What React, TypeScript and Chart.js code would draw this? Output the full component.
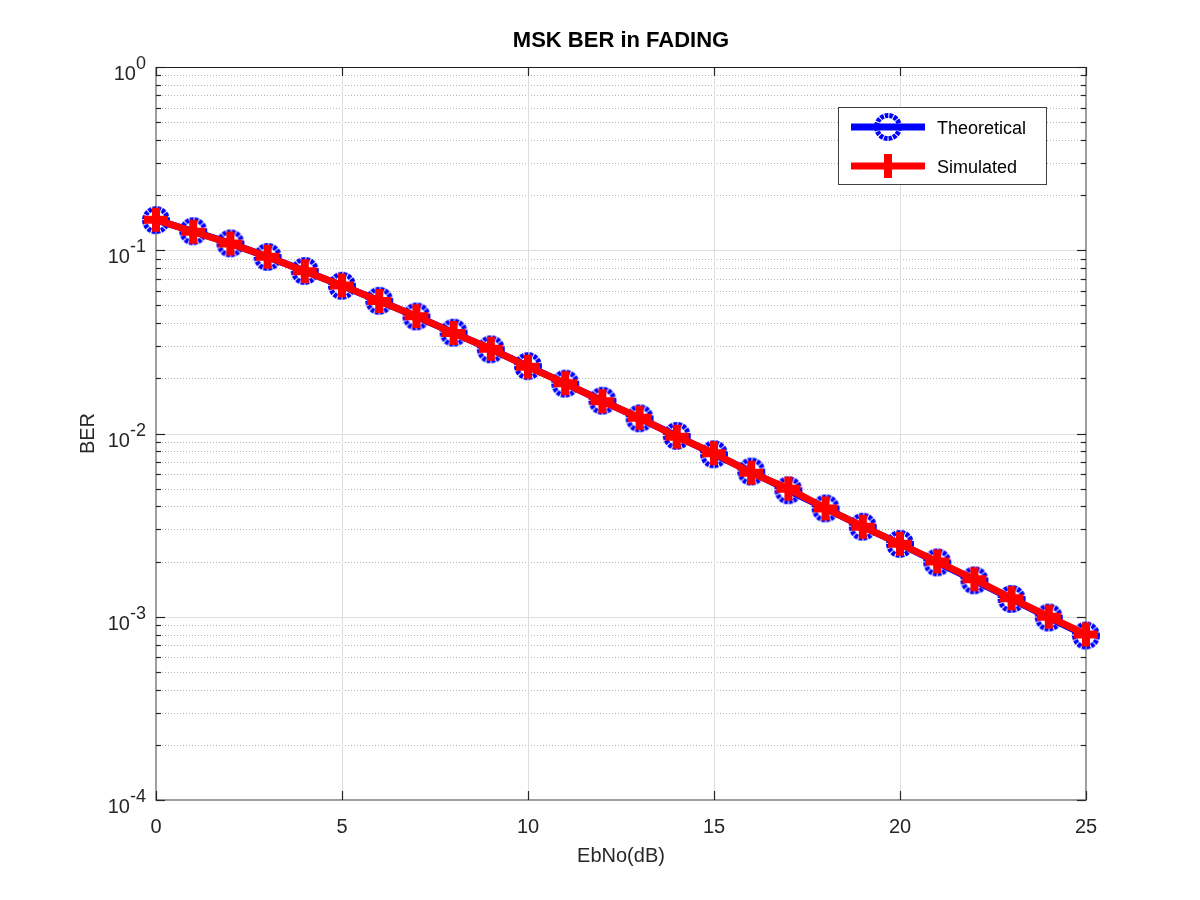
import React, { useEffect, useRef } from 'react';
import { Chart, registerables } from 'chart.js';

Chart.register(...registerables);

// EbNo in dB
const ebNo = [0, 1, 2, 3, 4, 5, 6, 7, 8, 9, 10, 11, 12, 13, 14, 15, 16, 17, 18, 19, 20, 21, 22, 23, 24, 25];

// BER
const theoretical = [
  0.146, 0.127, 0.109, 0.092, 0.077, 0.064, 0.053, 0.0435, 0.0355, 0.0288,
  0.0233, 0.0187, 0.0151, 0.0121, 0.0097, 0.0077, 0.0062, 0.0049, 0.0039, 0.0031,
  0.0025, 0.00198, 0.00158, 0.00125, 0.00099, 0.00079,
];
const simulated = [
  0.1468, 0.1262, 0.1089, 0.0921, 0.0768, 0.0643, 0.0528, 0.0437, 0.0353, 0.029,
  0.0231, 0.0188, 0.015, 0.0122, 0.0096, 0.0078, 0.0061, 0.005, 0.0039, 0.0031,
  0.0025, 0.002, 0.0016, 0.00126, 0.001, 0.0008,
];

const xTicks = [0, 5, 10, 15, 20, 25];
const yExponents = [0, -1, -2, -3, -4];
const minorSteps = [2, 3, 4, 5, 6, 7, 8, 9];
const seriesLabels = ['Theoretical', 'Simulated'];

const FONT = '"Liberation Sans", Arial, Helvetica, sans-serif';

function makeCircleMarker(): HTMLCanvasElement {
  const c = document.createElement('canvas');
  c.width = 34;
  c.height = 34;
  const g = c.getContext('2d');
  if (g) {
    g.strokeStyle = '#0000ff';
    g.lineWidth = 5;
    g.setLineDash([3.6, 1]);
    g.beginPath();
    g.arc(17, 17, 11.5, 0, Math.PI * 2);
    g.stroke();
  }
  return c;
}

const App: React.FC = () => {
  const chartRef = useRef<HTMLCanvasElement>(null);
  const chartInstance = useRef<Chart | null>(null);

  useEffect(() => {
    if (!chartRef.current) return;
    if (chartInstance.current) chartInstance.current.destroy();

    const circle = makeCircleMarker();

    // octave-style frame: grid, box, inward ticks, labels, legend
    const frame = {
      id: 'frame',
      beforeDatasetsDraw(chart: any) {
        const { ctx, chartArea: a } = chart;
        const xs = chart.scales.x;
        const ys = chart.scales.y;
        ctx.save();

        // minor grid
        ctx.strokeStyle = '#b4b4b4';
        ctx.lineWidth = 1;
        ctx.setLineDash([1, 2]);
        yExponents.slice(1).forEach((e) => {
          minorSteps.forEach((m) => {
            const y = Math.round(ys.getPixelForValue(m * 10 ** e)) + 0.5;
            ctx.beginPath();
            ctx.moveTo(a.left, y);
            ctx.lineTo(a.right, y);
            ctx.stroke();
          });
        });

        // major grid
        ctx.setLineDash([]);
        ctx.strokeStyle = '#dedede';
        yExponents.slice(1, -1).forEach((e) => {
          const y = Math.round(ys.getPixelForValue(10 ** e)) + 0.5;
          ctx.beginPath();
          ctx.moveTo(a.left, y);
          ctx.lineTo(a.right, y);
          ctx.stroke();
        });
        xTicks.slice(1, -1).forEach((v) => {
          const x = Math.round(xs.getPixelForValue(v)) + 0.5;
          ctx.beginPath();
          ctx.moveTo(x, a.top);
          ctx.lineTo(x, a.bottom);
          ctx.stroke();
        });

        // box
        ctx.strokeStyle = '#1e1e1e';
        ctx.lineWidth = 1;
        ctx.beginPath();
        ctx.moveTo(a.left, a.top + 0.5);
        ctx.lineTo(a.right, a.top + 0.5);
        ctx.stroke();
        ctx.strokeStyle = '#808080';
        ctx.lineWidth = 1.5;
        ctx.beginPath();
        ctx.moveTo(a.left, a.top);
        ctx.lineTo(a.left, a.bottom);
        ctx.lineTo(a.right, a.bottom);
        ctx.lineTo(a.right, a.top);
        ctx.stroke();

        // ticks
        ctx.strokeStyle = '#262626';
        ctx.lineWidth = 1.2;
        const tick = (x1: number, y1: number, x2: number, y2: number) => {
          ctx.beginPath();
          ctx.moveTo(x1, y1);
          ctx.lineTo(x2, y2);
          ctx.stroke();
        };
        yExponents.forEach((e) => {
          const y = Math.round(ys.getPixelForValue(10 ** e)) + 0.5;
          tick(a.left, y, a.left + 9, y);
          tick(a.right, y, a.right - 9, y);
          if (e > yExponents[yExponents.length - 1]) {
            minorSteps.forEach((m) => {
              const ym = Math.round(ys.getPixelForValue(m * 10 ** (e - 1))) + 0.5;
              tick(a.left, ym, a.left + 5, ym);
              tick(a.right, ym, a.right - 5, ym);
            });
          }
        });
        xTicks.forEach((v) => {
          const x = Math.round(xs.getPixelForValue(v)) + 0.5;
          tick(x, a.bottom, x, a.bottom - 9);
          tick(x, a.top, x, a.top + 9);
        });

        // tick labels
        ctx.fillStyle = '#262626';
        ctx.textBaseline = 'alphabetic';
        ctx.font = `20px ${FONT}`;
        ctx.textAlign = 'center';
        xTicks.forEach((v) => {
          ctx.fillText(String(v), xs.getPixelForValue(v), a.bottom + 33);
        });
        yExponents.forEach((e) => {
          const y = ys.getPixelForValue(10 ** e);
          const exp = String(e);
          ctx.font = `18px ${FONT}`;
          const expW = ctx.measureText(exp).width;
          const expX = a.left - 10 - expW;
          ctx.textAlign = 'left';
          ctx.fillText(exp, expX, y + 2);
          ctx.font = `20px ${FONT}`;
          ctx.textAlign = 'right';
          ctx.fillText('10', expX, y + 13);
        });

        // axis labels and title
        ctx.textAlign = 'center';
        ctx.font = `20px ${FONT}`;
        ctx.fillText('EbNo(dB)', (a.left + a.right) / 2, 862);
        ctx.save();
        ctx.translate(94, (a.top + a.bottom) / 2);
        ctx.rotate(-Math.PI / 2);
        ctx.fillText('BER', 0, 0);
        ctx.restore();
        ctx.fillStyle = '#000000';
        ctx.font = `bold 22px ${FONT}`;
        ctx.fillText('MSK BER in FADING', (a.left + a.right) / 2, 47);
        ctx.restore();
      },
      afterDatasetsDraw(chart: any) {
        const { ctx } = chart;
        ctx.save();
        ctx.fillStyle = '#ffffff';
        ctx.fillRect(838.5, 107.5, 208, 77);
        ctx.strokeStyle = '#404040';
        ctx.lineWidth = 1;
        ctx.strokeRect(838.5, 107.5, 208, 77);

        const rows = [127, 166];
        ctx.lineWidth = 7;
        ctx.strokeStyle = '#0000ff';
        ctx.beginPath();
        ctx.moveTo(851, rows[0]);
        ctx.lineTo(925, rows[0]);
        ctx.stroke();
        ctx.drawImage(circle, 888 - 17, rows[0] - 17);

        ctx.strokeStyle = '#ff0000';
        ctx.beginPath();
        ctx.moveTo(851, rows[1]);
        ctx.lineTo(925, rows[1]);
        ctx.stroke();
        ctx.lineWidth = 8;
        ctx.beginPath();
        ctx.moveTo(888, rows[1] - 12);
        ctx.lineTo(888, rows[1] + 12);
        ctx.stroke();

        ctx.fillStyle = '#000000';
        ctx.font = `18px ${FONT}`;
        ctx.textAlign = 'left';
        ctx.textBaseline = 'alphabetic';
        ctx.fillText(seriesLabels[0], 937, rows[0] + 7);
        ctx.fillText(seriesLabels[1], 937, rows[1] + 7);
        ctx.restore();
      },
    };

    chartInstance.current = new Chart(chartRef.current, {
      type: 'line',
      data: {
        datasets: [
          {
            label: seriesLabels[0],
            data: ebNo.map((x, i) => ({ x, y: theoretical[i] })),
            borderColor: '#0000ff',
            backgroundColor: '#0000ff',
            borderWidth: 7,
            pointStyle: circle,
            pointRadius: 14,
            tension: 0,
            clip: false,
            order: 2,
          },
          {
            label: seriesLabels[1],
            data: ebNo.map((x, i) => ({ x, y: simulated[i] })),
            borderColor: '#ff0000',
            backgroundColor: '#ff0000',
            borderWidth: 7,
            pointStyle: 'cross',
            pointRadius: 12,
            pointBorderWidth: 8,
            pointBorderColor: '#ff0000',
            tension: 0,
            clip: false,
            order: 1,
          },
        ],
      },
      options: {
        responsive: false,
        animation: false,
        events: [],
        layout: { autoPadding: false, padding: { top: 67, right: 114, left: 0, bottom: 0 } },
        plugins: {
          legend: { display: false },
          title: { display: false },
          tooltip: { enabled: false },
        },
        scales: {
          x: {
            type: 'linear',
            min: 0,
            max: 25,
            ticks: { display: false },
            grid: { display: false },
            border: { display: false },
            afterFit: (s: any) => { s.height = 100; },
          },
          y: {
            type: 'logarithmic',
            min: 1e-4,
            max: 1,
            ticks: { display: false },
            grid: { display: false },
            border: { display: false },
            afterFit: (s: any) => { s.width = 156; },
          },
        },
      },
      plugins: [frame],
    } as any);

    return () => {
      if (chartInstance.current) {
        chartInstance.current.destroy();
        chartInstance.current = null;
      }
    };
  }, []);

  return (
    <div style={{ position: 'absolute', left: 0, top: 0, width: 1200, height: 900, background: '#ffffff' }}>
      <canvas ref={chartRef} width={1200} height={900} style={{ display: 'block' }}></canvas>
    </div>
  );
};

export default App;
